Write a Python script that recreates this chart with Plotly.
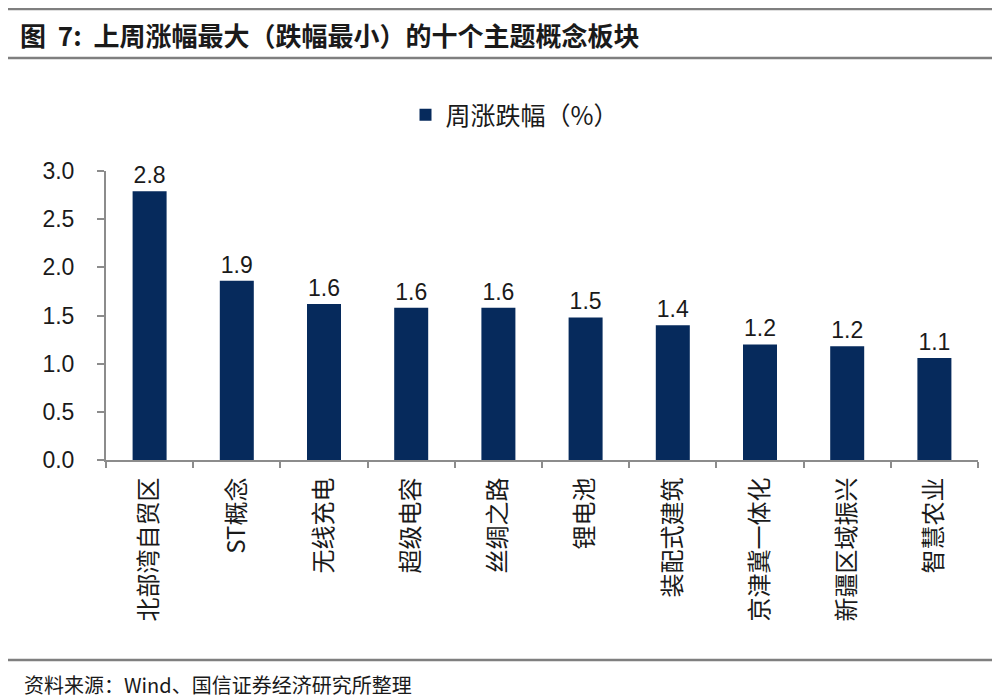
import plotly.graph_objects as go

categories = ["北部湾自贸区", "ST概念", "无线充电", "超级电容", "丝绸之路",
              "锂电池", "装配式建筑", "京津冀一体化", "新疆区域振兴", "智慧农业"]
values = [2.79, 1.86, 1.62, 1.58, 1.58, 1.48, 1.40, 1.20, 1.18, 1.06]
series_name = "周涨跌幅（%）"
y_ticks = [0.0, 0.5, 1.0, 1.5, 2.0, 2.5, 3.0]
title_text = "图  7:  上周涨幅最大（跌幅最小）的十个主题概念板块"
source_text = "资料来源：Wind、国信证券经济研究所整理"

# page body has an 8px margin; work in reference pixels and shift
O = 8
W, H = 1000 - O, 699 - O
L, R, T, B = 106 - O, 978 - O, 171 - O, 460 - O

def px(x):
    return (x - O - L) / (R - L)

def py(y):
    return (B - (y - O)) / (B - T)

FONT = "Liberation Sans, Arial, Noto Sans CJK SC, sans-serif"
CJK = "Noto Sans CJK SC, Liberation Sans, sans-serif"
NAVY = "#062a5c"
GRAY = "#8c8c8c"

fig = go.Figure()
fig.add_trace(go.Bar(
    x=categories, y=values, name=series_name,
    marker=dict(color=NAVY, line=dict(width=0)),
    width=0.39,
    text=[f"{v:.1f}" for v in values],
    textposition="outside",
    textfont=dict(family=FONT, size=23, color="#1a1a1a"),
    cliponaxis=False,
    showlegend=True,
))

fig.update_layout(
    width=W, height=H,
    margin=dict(l=L, r=W - R, t=T, b=H - B),
    paper_bgcolor="white", plot_bgcolor="white",
    font=dict(family=CJK, color="#1a1a1a"),
    showlegend=True,
    legend=dict(orientation="h", x=px(515), xanchor="center", y=py(115), yanchor="middle",
                font=dict(family=CJK, size=25, color="#1a1a1a"),
                bgcolor="rgba(0,0,0,0)"),
    xaxis=dict(
        type="category", showline=True, linecolor=GRAY, linewidth=2,
        ticks="outside", tickson="boundaries", ticklen=6, tickcolor=GRAY, tickwidth=2,
        tickangle=-90, tickfont=dict(family=CJK, size=24, color="#1a1a1a"),
        showgrid=False, zeroline=False, ticklabelstandoff=6,
    ),
    yaxis=dict(
        range=[0, 3.0], tickvals=y_ticks, ticktext=[f"{t:.1f}" for t in y_ticks],
        showline=True, linecolor=GRAY, linewidth=2,
        ticks="outside", ticklen=7, tickcolor=GRAY, tickwidth=2,
        tickfont=dict(family=FONT, size=23, color="#1a1a1a"),
        showgrid=False, zeroline=False, ticklabelstandoff=18,
    ),
)

# header / footer rules
for yy in (9, 58, 660):
    fig.add_shape(type="line", xref="paper", yref="paper",
                  x0=px(8), x1=px(995), y0=py(yy), y1=py(yy),
                  line=dict(color="#7f7f7f", width=2.5))

fig.add_annotation(text=f"<b>{title_text}</b>", xref="paper", yref="paper",
                   x=px(18), y=py(35), xanchor="left", yanchor="middle", showarrow=False,
                   font=dict(family=CJK, size=26, color="#1a1a1a"))
fig.add_annotation(text=source_text, xref="paper", yref="paper",
                   x=px(22), y=py(684), xanchor="left", yanchor="middle", showarrow=False,
                   font=dict(family=CJK, size=20, color="#1a1a1a"))

fig.write_html("out.html")
